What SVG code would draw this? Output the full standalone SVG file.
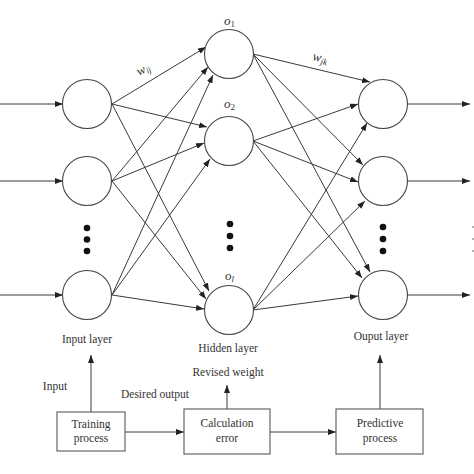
<svg xmlns="http://www.w3.org/2000/svg" width="474" height="474" viewBox="0 0 474 474">
<defs>
<marker id="ah" viewBox="0 0 8 6" refX="8" refY="3" markerWidth="8" markerHeight="6" orient="auto" markerUnits="userSpaceOnUse">
<path d="M0,0 L8,3 L0,6 z" fill="#222"/>
</marker>
<style>
.n{fill:#fff;stroke:#444;stroke-width:1.1}
.c line{stroke:#3a3a3a;stroke-width:1;marker-end:url(#ah)}
.t{font-family:"Liberation Serif","Times New Roman",serif;font-size:11.5px;fill:#333;text-anchor:middle}
.i{font-family:"Liberation Serif","Times New Roman",serif;font-style:italic;fill:#333;font-size:13px}
.b{fill:#fff;stroke:#666;stroke-width:1.2}
.d{fill:#111}
</style>
</defs>
<rect width="474" height="474" fill="#fff"/>

<g id="connectors" class="c">
<line x1="0" y1="104" x2="63" y2="104"/>
<line x1="0" y1="181" x2="63" y2="181"/>
<line x1="0" y1="295" x2="63" y2="295"/>
<line x1="112" y1="104" x2="206" y2="47"/>
<line x1="112" y1="104" x2="207" y2="127"/>
<line x1="112" y1="104" x2="209" y2="291"/>
<line x1="112" y1="181" x2="208" y2="67"/>
<line x1="112" y1="181" x2="204" y2="143"/>
<line x1="112" y1="181" x2="206" y2="299"/>
<line x1="112" y1="295" x2="213" y2="75"/>
<line x1="112" y1="295" x2="210" y2="159"/>
<line x1="112" y1="295" x2="204" y2="309"/>
<line x1="253" y1="54" x2="370" y2="82"/>
<line x1="253" y1="54" x2="363" y2="165"/>
<line x1="253" y1="54" x2="370" y2="272"/>
<line x1="253" y1="141" x2="358" y2="104"/>
<line x1="253" y1="141" x2="358" y2="182"/>
<line x1="253" y1="141" x2="362" y2="278"/>
<line x1="253" y1="310" x2="367" y2="123"/>
<line x1="253" y1="310" x2="365" y2="201"/>
<line x1="253" y1="310" x2="358" y2="296"/>
<line x1="407" y1="104" x2="470" y2="104"/>
<line x1="407" y1="181" x2="470" y2="181"/>
<line x1="407" y1="295" x2="470" y2="295"/>
<line x1="91" y1="412" x2="91" y2="355"/>
<line x1="125" y1="432" x2="184" y2="432"/>
<line x1="227" y1="409" x2="227" y2="385"/>
<line x1="270" y1="432" x2="336" y2="432"/>
<line x1="380" y1="409" x2="380" y2="355"/>
</g>

<g id="input-layer">
<circle class="n" cx="87" cy="104" r="24.5"/>
<circle class="n" cx="87" cy="181" r="24.5"/>
<circle class="n" cx="87" cy="295" r="24.5"/>
<circle class="d" cx="87" cy="228" r="3.3"/>
<circle class="d" cx="87" cy="239.5" r="3.3"/>
<circle class="d" cx="87" cy="251" r="3.3"/>
<text class="t" x="87" y="343">Input layer</text>
</g>

<g id="hidden-layer">
<circle class="n" cx="229" cy="54" r="24.5"/>
<circle class="n" cx="229" cy="141" r="24.5"/>
<circle class="n" cx="229" cy="310" r="24.5"/>
<circle class="d" cx="230" cy="224" r="3.3"/>
<circle class="d" cx="230" cy="236" r="3.3"/>
<circle class="d" cx="230" cy="248" r="3.3"/>
<text class="i" x="224" y="25">o<tspan font-size="9" font-style="normal" dy="2">1</tspan></text>
<text class="i" x="224" y="108">o<tspan font-size="9" font-style="normal" dy="2">2</tspan></text>
<text class="i" x="225" y="280">o<tspan font-size="9" dy="2">l</tspan></text>
<text class="t" x="228" y="352">Hidden layer</text>
</g>

<g id="output-layer">
<circle class="n" cx="383" cy="104" r="24.5"/>
<circle class="n" cx="383" cy="181" r="24.5"/>
<circle class="n" cx="383" cy="295" r="24.5"/>
<circle class="d" cx="383" cy="227" r="3.3"/>
<circle class="d" cx="383" cy="239" r="3.3"/>
<circle class="d" cx="383" cy="251" r="3.3"/>
<circle cx="473" cy="227" r="1" fill="#999"/>
<circle cx="473" cy="239" r="1" fill="#999"/>
<circle cx="473" cy="251" r="1" fill="#999"/>
<text class="t" x="381" y="340">Ouput layer</text>
</g>

<g id="weights">
<text class="i" transform="translate(139,76) rotate(-27)">w<tspan font-size="9" dy="2">ij</tspan></text>
<text class="i" transform="translate(312,60) rotate(13)">w<tspan font-size="9" dy="2">jk</tspan></text>
</g>

<g id="training-process">
<rect class="b" x="57" y="412" width="68" height="39"/>
<text class="t" x="91" y="428">Training</text>
<text class="t" x="91" y="442">process</text>
</g>

<g id="calculation-error">
<rect class="b" x="184" y="409" width="86" height="45"/>
<text class="t" x="227" y="427">Calculation</text>
<text class="t" x="227" y="442">error</text>
</g>

<g id="predictive-process">
<rect class="b" x="336" y="409" width="87" height="45"/>
<text class="t" x="380" y="427">Predictive</text>
<text class="t" x="380" y="442">process</text>
</g>

<g id="flow-labels">
<text class="t" x="55" y="390">Input</text>
<text class="t" x="155" y="398">Desired output</text>
<text class="t" x="228" y="376">Revised weight</text>
</g>
</svg>
